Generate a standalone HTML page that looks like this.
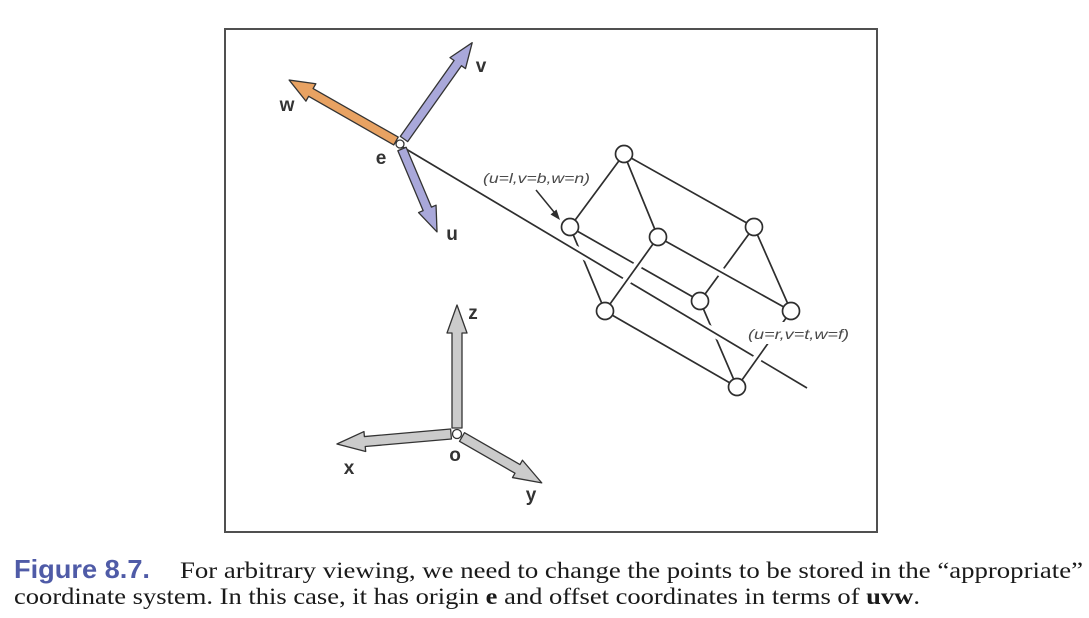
<!DOCTYPE html>
<html>
<head>
<meta charset="utf-8">
<style>
  html,body{margin:0;padding:0;background:#fff;}
  body{width:1089px;height:618px;overflow:hidden;}
  svg{display:block;}
</style>
</head>
<body>
<svg width="1089" height="618" viewBox="0 0 1089 618" xmlns="http://www.w3.org/2000/svg">
  <!-- frame -->
  <rect x="225" y="29" width="652" height="503" fill="#fff" stroke="#505050" stroke-width="2"/>

  <!-- back edges (plain) -->
  <g stroke="#2e2e2e" stroke-width="1.7" fill="none" stroke-linecap="round">
    <line x1="570" y1="227" x2="605" y2="311"/>
    <line x1="700" y1="301" x2="737" y2="387"/>
    <line x1="754" y1="227" x2="700" y2="301"/>
    <line x1="570" y1="227" x2="700" y2="301"/>
  </g>

  <!-- long view line with halo -->
  <line x1="401" y1="146" x2="807" y2="388" stroke="#fff" stroke-width="9"/>
  <line x1="401" y1="146" x2="807" y2="388" stroke="#2e2e2e" stroke-width="1.7"/>

  <!-- front edges with halo -->
  <g stroke="#fff" stroke-width="9" fill="none">
    <line x1="652" y1="245" x2="611" y2="303"/>
    <line x1="666" y1="241" x2="783" y2="307"/>
    <line x1="786" y1="318" x2="742" y2="380"/>
  </g>
  <g stroke="#2e2e2e" stroke-width="1.7" fill="none" stroke-linecap="round">
    <line x1="658" y1="237" x2="605" y2="311"/>
    <line x1="658" y1="237" x2="791" y2="311"/>
    <line x1="791" y1="311" x2="737" y2="387"/>
    <line x1="624" y1="154" x2="570" y2="227"/>
    <line x1="624" y1="154" x2="658" y2="237"/>
    <line x1="624" y1="154" x2="754" y2="227"/>
    <line x1="754" y1="227" x2="791" y2="311"/>
    <line x1="605" y1="311" x2="737" y2="387"/>
  </g>

  <!-- nodes -->
  <g fill="#fff" stroke="#2e2e2e" stroke-width="1.7">
    <circle cx="624" cy="154" r="8.5"/>
    <circle cx="570" cy="227" r="8.5"/>
    <circle cx="658" cy="237" r="8.5"/>
    <circle cx="754" cy="227" r="8.5"/>
    <circle cx="605" cy="311" r="8.5"/>
    <circle cx="700" cy="301" r="8.5"/>
    <circle cx="791" cy="311" r="8.5"/>
    <circle cx="737" cy="387" r="8.5"/>
  </g>

  <!-- labels in diagram -->
  <text x="483" y="183" font-family="Liberation Sans, sans-serif" font-style="italic" font-size="14" fill="#4a4a4a" textLength="107" lengthAdjust="spacingAndGlyphs">(u=l,v=b,w=n)</text>
  <line x1="536" y1="190" x2="554" y2="212" stroke="#2e2e2e" stroke-width="1.5"/>
  <polygon points="560,220 550.5,214.5 556.5,209.5" fill="#2e2e2e"/>

  <rect x="746" y="322" width="105" height="22" fill="#fff"/>
  <text x="748" y="339" font-family="Liberation Sans, sans-serif" font-style="italic" font-size="14" fill="#4a4a4a" textLength="101" lengthAdjust="spacingAndGlyphs">(u=r,v=t,w=f)</text>

  <!-- uvw axes -->
  <g stroke="#333" stroke-width="1.3" stroke-linejoin="round">
    <polygon transform="translate(396,141) rotate(209.7)" points="0,-4.5 98,-4.5 98,-10 123,0 98,10 98,4.5 0,4.5" fill="#E8A262"/>
    <polygon transform="translate(404,139) rotate(-54.7)" points="0,-4.5 93,-4.5 93,-9.5 118,0 93,9.5 93,4.5 0,4.5" fill="#A9A8DA"/>
    <polygon transform="translate(402,149) rotate(67.1)" points="0,-4.5 65,-4.5 65,-9.5 90,0 65,9.5 65,4.5 0,4.5" fill="#A9A8DA"/>
    <circle cx="400" cy="144" r="4" fill="#fff"/>
  </g>

  <!-- xyz axes -->
  <g stroke="#333" stroke-width="1.3" stroke-linejoin="round" fill="#CBCBCB">
    <polygon transform="translate(457,428) rotate(-90)" points="0,-5 95,-5 95,-10 123,0 95,10 95,5 0,5"/>
    <polygon transform="translate(451,434) rotate(175)" points="0,-5 86.5,-5 86.5,-10 114.5,0 86.5,10 86.5,5 0,5"/>
    <polygon transform="translate(462,437) rotate(29.9)" points="0,-5 64,-5 64,-10 92,0 64,10 64,5 0,5"/>
    <circle cx="457" cy="434" r="4.5" fill="#fff"/>
  </g>

  <!-- axis labels -->
  <g font-family="Liberation Sans, sans-serif" font-weight="bold" font-size="19" fill="#333" text-anchor="middle">
    <text x="287" y="111">w</text>
    <text x="481" y="72">v</text>
    <text x="381" y="164">e</text>
    <text x="452" y="240">u</text>
    <text x="473" y="319">z</text>
    <text x="349" y="474">x</text>
    <text x="455" y="461">o</text>
    <text x="531" y="501">y</text>
  </g>

  <!-- caption -->
  <text x="14" y="578" font-family="Liberation Sans, sans-serif" font-weight="bold" font-size="26" fill="#4F5BA7" textLength="136" lengthAdjust="spacingAndGlyphs">Figure 8.7.</text>
  <text x="180" y="578" font-family="Liberation Serif, serif" font-size="23" fill="#1a1a1a" textLength="903" lengthAdjust="spacingAndGlyphs">For arbitrary viewing, we need to change the points to be stored in the “appropriate”</text>
  <text x="14" y="604" font-family="Liberation Serif, serif" font-size="23" fill="#1a1a1a" textLength="906" lengthAdjust="spacingAndGlyphs">coordinate system. In this case, it has origin <tspan font-weight="bold">e</tspan> and offset coordinates in terms of <tspan font-weight="bold">uvw</tspan>.</text>
</svg>
</body>
</html>
